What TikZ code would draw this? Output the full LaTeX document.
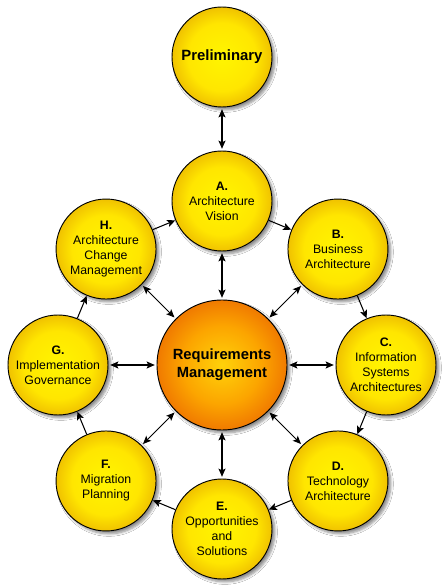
\documentclass[tikz,border=0pt]{standalone}
\usepackage{fontspec}
\setmainfont{Liberation Sans}
\usetikzlibrary{arrows.meta,shadows.blur}
\definecolor{admyellow}{RGB}{255,245,0}
\definecolor{admmid}{RGB}{255,230,0}
\definecolor{admgold}{RGB}{240,194,0}
\definecolor{rmlight}{RGB}{255,210,10}
\definecolor{rmmid}{RGB}{252,165,0}
\definecolor{rmorange}{RGB}{240,122,0}
\pgfdeclareradialshading{phaseshade}{\pgfpoint{0bp}{0bp}}{color(0bp)=(admyellow);
  color(17bp)=(admmid); color(25bp)=(admgold); color(50bp)=(admgold)}
\pgfdeclareradialshading{reqsshade}{\pgfpoint{0bp}{0bp}}{color(0bp)=(rmlight);
  color(15bp)=(rmmid); color(25bp)=(rmorange); color(50bp)=(rmorange)}

\tikzset{
  phase/.style={draw=black, line width=0.8pt, circle, minimum size=3cm, inner sep=0pt,
    align=center, shading=phaseshade,
    blur shadow={shadow xshift=2.5pt, shadow yshift=-2.5pt, shadow blur steps=6, shadow opacity=45},
    font=\fontsize{10.5}{12.8}\selectfont},
  reqs/.style={phase, minimum size=3.9cm, shading=reqsshade,
    font=\fontsize{12.6}{15}\selectfont\bfseries},
  ring/.style={-{Stealth[length=7pt,width=6pt,inset=1.5pt]}, line width=0.9pt},
  link/.style={{Stealth[length=7pt,width=6pt,inset=1.5pt]}-{Stealth[length=7pt,width=6pt,inset=1.5pt]},
    line width=0.9pt, shorten <=1.5pt, shorten >=1.5pt}
}

\begin{document}
\begin{tikzpicture}
  \useasboundingbox[fill=white] (-6.66,-6.69) rectangle (6.63,10.95);
  % centre and preliminary phase
  \node[reqs] (RM) at (0,0) {Requirements\\Management};
  \node[phase, font=\fontsize{12.7}{15}\selectfont\bfseries] (P) at (0,9.24) {Preliminary};
  % ADM cycle
  \foreach \name/\ang/\txt in {
      A/90/{\textbf{A.}\\Architecture\\Vision},
      B/45/{\textbf{B.}\\Business\\Architecture},
      C/0/{\textbf{C.}\\Information\\Systems\\Architectures},
      D/-45/{\textbf{D.}\\Technology\\Architecture},
      E/-90/{\textbf{E.}\\Opportunities\\and\\Solutions},
      F/-135/{\textbf{F.}\\Migration\\Planning},
      G/180/{\textbf{G.}\\Implementation\\Governance},
      H/135/{\textbf{H.}\\Architecture\\Change\\Management}} {
    \node[phase] (\name) at (\ang:4.92) {\txt};
  }
  \foreach \a/\b in {A/B, B/C, C/D, D/E, E/F, F/G, G/H, H/A}
    \draw[ring] (\a) -- (\b);
  \foreach \n in {A,...,H}
    \draw[link] (RM) -- (\n);
  \draw[link] (P) -- (A);
\end{tikzpicture}
\end{document}
